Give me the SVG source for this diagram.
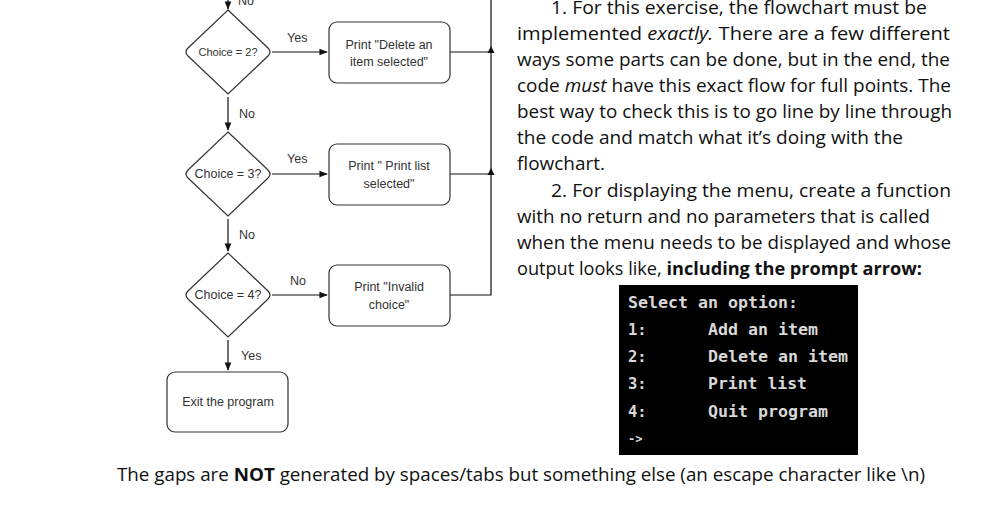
<svg xmlns="http://www.w3.org/2000/svg" width="991" height="511" viewBox="0 0 991 511">
<style>
.s{fill:#fff;stroke:#333;stroke-width:1.2}
.t{font-family:"Liberation Sans",Arial,sans-serif;font-size:12.5px;fill:#333;text-anchor:middle}
.l{font-family:"Liberation Sans",Arial,sans-serif;font-size:12.5px;fill:#333}
.e{stroke:#111;stroke-width:1.2;fill:none}
.p{font-family:"Open Sans","Liberation Sans",sans-serif;font-size:18px;fill:#111}
.m{font-family:"DejaVu Sans Mono",monospace;font-size:15.5px;font-weight:bold;fill:#d8d8d8}
</style>
<defs><marker id="a" viewBox="0 0 10 10" refX="9" refY="5" markerWidth="7" markerHeight="7" orient="auto"><path d="M0,1L10,5L0,9z" fill="#111"/></marker></defs>
<rect width="991" height="511" fill="#fff"/>
<g id="connectors">
<path class="e" d="M228,0V9" marker-end="url(#a)"/>
<path class="e" d="M272,52H327" marker-end="url(#a)"/>
<path class="e" d="M228,97V130" marker-end="url(#a)"/>
<path class="e" d="M272,174H327" marker-end="url(#a)"/>
<path class="e" d="M228,219V251" marker-end="url(#a)"/>
<path class="e" d="M272,295H327" marker-end="url(#a)"/>
<path class="e" d="M228,340V370" marker-end="url(#a)"/>
<path class="e" d="M450,295H491V0"/>
<path class="e" d="M450,52H491"/>
<path class="e" d="M450,174H491"/>
<path d="M491,46l-3.5,7h7z M491,168l-3.5,7h7z" fill="#111"/>
<text class="l" x="238" y="5">No</text>
<text class="l" x="287" y="42">Yes</text>
<text class="l" x="239" y="118">No</text>
<text class="l" x="287" y="163">Yes</text>
<text class="l" x="239" y="239">No</text>
<text class="l" x="290" y="285">No</text>
<text class="l" x="241" y="360">Yes</text>
</g>
<g id="d2"><path class="s" d="M228,10L268,48Q272,52 268,56L228,94L188,56Q184,52 188,48Z"/><text class="t" x="228" y="56" style="font-size:11px">Choice = 2?</text></g>
<g id="d3"><path class="s" d="M228,132L268,170Q272,174 268,178L228,216L188,178Q184,174 188,170Z"/><text class="t" x="228" y="178">Choice = 3?</text></g>
<g id="d4"><path class="s" d="M228,253L268,291Q272,295 268,299L228,337L188,299Q184,295 188,291Z"/><text class="t" x="228" y="299">Choice = 4?</text></g>
<g id="b1"><rect class="s" x="329" y="22" width="121" height="61" rx="8"/><text class="t" x="389" y="49">Print "Delete an</text><text class="t" x="389" y="66">item selected"</text></g>
<g id="b2"><rect class="s" x="329" y="144" width="121" height="61" rx="8"/><text class="t" x="389" y="170">Print " Print list</text><text class="t" x="389" y="188">selected"</text></g>
<g id="b3"><rect class="s" x="329" y="265" width="121" height="61" rx="8"/><text class="t" x="389" y="291">Print "Invalid</text><text class="t" x="389" y="309">choice"</text></g>
<g id="exit"><rect class="s" x="167" y="372" width="121" height="60" rx="8"/><text class="t" x="228" y="406">Exit the program</text></g>
<g id="instructions">
<text class="p" x="551" y="14" textLength="376" lengthAdjust="spacingAndGlyphs">1.  For this exercise, the flowchart must be</text>
<text class="p" x="517" y="40" textLength="433" lengthAdjust="spacingAndGlyphs">implemented <tspan font-style="italic">exactly.</tspan> There are a few different</text>
<text class="p" x="517" y="66" textLength="433" lengthAdjust="spacingAndGlyphs">ways some parts can be done, but in the end, the</text>
<text class="p" x="517" y="92" textLength="434" lengthAdjust="spacingAndGlyphs">code <tspan font-style="italic">must</tspan> have this exact flow for full points. The</text>
<text class="p" x="517" y="118" textLength="435" lengthAdjust="spacingAndGlyphs">best way to check this is to go line by line through</text>
<text class="p" x="517" y="144" textLength="386" lengthAdjust="spacingAndGlyphs">the code and match what it’s doing with the</text>
<text class="p" x="517" y="170" textLength="88" lengthAdjust="spacingAndGlyphs">flowchart.</text>
<text class="p" x="551" y="197" textLength="400" lengthAdjust="spacingAndGlyphs">2.  For displaying the menu, create a function</text>
<text class="p" x="517" y="223" textLength="413" lengthAdjust="spacingAndGlyphs">with no return and no parameters that is called</text>
<text class="p" x="517" y="249" textLength="434" lengthAdjust="spacingAndGlyphs">when the menu needs to be displayed and whose</text>
<text class="p" x="517" y="275" textLength="405" lengthAdjust="spacingAndGlyphs">output looks like, <tspan font-weight="bold">including the prompt arrow:</tspan></text>
<text class="p" x="117" y="481" textLength="808" lengthAdjust="spacingAndGlyphs">The gaps are <tspan font-weight="bold">NOT</tspan> generated by spaces/tabs but something else (an escape character like \n)</text>
</g>
<g id="terminal">
<rect x="619" y="285" width="239" height="170" fill="#000"/>
<text class="m" x="628" y="308" textLength="170" lengthAdjust="spacingAndGlyphs">Select an option:</text>
<text class="m" x="628" y="335">1:</text><text class="m" x="708" y="335" textLength="110" lengthAdjust="spacingAndGlyphs">Add an item</text>
<text class="m" x="628" y="362">2:</text><text class="m" x="708" y="362" textLength="140" lengthAdjust="spacingAndGlyphs">Delete an item</text>
<text class="m" x="628" y="389">3:</text><text class="m" x="708" y="389" textLength="99" lengthAdjust="spacingAndGlyphs">Print list</text>
<text class="m" x="628" y="417">4:</text><text class="m" x="708" y="417" textLength="120" lengthAdjust="spacingAndGlyphs">Quit program</text>
<text class="m" x="628" y="443" style="font-size:12px">-&gt;</text>
</g>
</svg>
